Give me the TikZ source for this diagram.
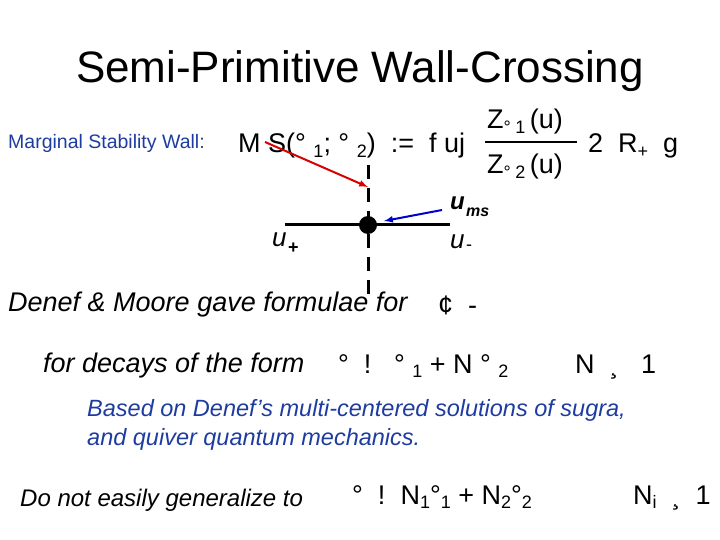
\documentclass[tikz,border=0pt]{standalone}
\usepackage{fontspec}
\setmainfont{Liberation Sans}
\newcommand{\lo}[1]{\raisebox{-0.35ex}{\fontsize{18}{19}\selectfont #1}}
\begin{document}
\begin{tikzpicture}[x=1pt,y=-1pt,
  txt/.style={anchor=base west,inner sep=0pt},
  fm/.style={txt,font=\fontsize{27}{30}\selectfont}]
\useasboundingbox (0,0) rectangle (720,540);
\node[anchor=base,inner sep=0pt,font=\fontsize{44}{48}\selectfont] (title) at (360,83) {Semi-Primitive Wall-Crossing};
\node[txt,font=\fontsize{19.5}{22}\selectfont,text={rgb,255:red,30;green,60;blue,160}] (msw) at (8,149) {Marginal Stability Wall:};
\node[fm] (f1) at (238,153) {M S(°\ \lo{1};\ °\ \lo{2})\ \ :=\ \ f uj};
\node[fm] (num) at (487,129) {Z\lo{°}\,\lo{1}\,(u)};
\node[fm] (den) at (487,174) {Z\lo{°}\,\lo{2}\,(u)};
\draw[line width=1.5pt] (485,142) -- (577,142);
\node[fm] (f2) at (588,153) {2\ \ R\lo{+}\ \ g};
% wall diagram
\coordinate (wt) at (368,165);
\coordinate (wb) at (368,302);
\draw[line width=3pt,dash pattern=on 14pt off 9pt] (wt) -- (wb);
\coordinate (hl) at (285,225);
\coordinate (hr) at (450,225);
\draw[line width=3pt] (hl) -- (hr);
\node[circle,fill=black,minimum size=18pt,inner sep=0pt] (dot) at (368,225) {};
\coordinate (ra) at (265,142);
\coordinate (rb) at (368,187);
\draw[red!85!black,line width=2pt,-latex] (ra) -- (rb);
\coordinate (ba) at (442,210);
\coordinate (bb) at (384,221);
\draw[blue!80!black,line width=2pt,-latex] (ba) -- (bb);
\node[txt,font=\fontsize{24}{26}\selectfont\bfseries\itshape] (ums) at (450,210) {u};
\node[txt,font=\fontsize{16}{18}\selectfont\bfseries\itshape] (umss) at (466,216) {ms};
\node[txt,font=\fontsize{26}{28}\selectfont\itshape] (up) at (272,247) {u};
\node[txt,font=\fontsize{18}{20}\selectfont\bfseries] (upp) at (288,253) {+};
\node[txt,font=\fontsize{26}{28}\selectfont\itshape] (um) at (450,248) {u};
\node[txt,font=\fontsize{18}{20}\selectfont] (umm) at (466,250) {-};
% Denef & Moore
\node[txt,font=\fontsize{27}{30}\selectfont\itshape] (dm) at (8,311) {Denef \& Moore gave formulae for};
\node[txt,font=\fontsize{27}{30}\selectfont] (cent) at (438,314) {¢\ \ -};
\node[txt,font=\fontsize{27}{30}\selectfont\itshape] (dec) at (43,372) {for decays of the form};
\node[fm] (d1) at (338,373) {°\ \ !\ \ \ °\ \lo{1} + N °\ \lo{2}};
\node[fm] (d1d) at (575,373) {N\ \ ¸\ \ \ 1};
\node[txt,font=\fontsize{23.5}{26}\selectfont\itshape,text={rgb,255:red,30;green,60;blue,160}] (b1) at (87,416) {Based on Denef's multi-centered solutions of sugra,};
\node[txt,font=\fontsize{23.5}{26}\selectfont\itshape,text={rgb,255:red,30;green,60;blue,160}] (b2) at (87,445) {and quiver quantum mechanics.};
\node[txt,font=\fontsize{24}{26}\selectfont\itshape] (dn) at (20,506) {Do not easily generalize to};
\node[fm] (g1) at (352,504) {°\ \ !\ \ N\lo{1}°\lo{1} + N\lo{2}°\lo{2}};
\node[fm] (g1h) at (633,504) {N\lo{i}\ \ ¸\ \ 1};
\end{tikzpicture}
\end{document}
